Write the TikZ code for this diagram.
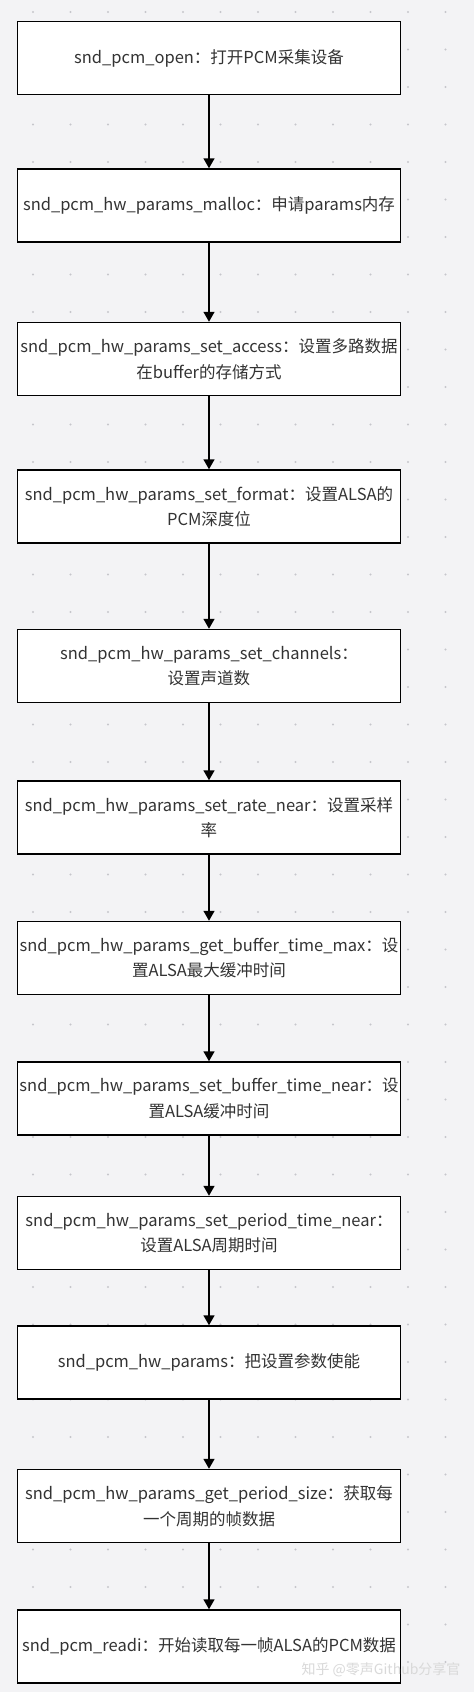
\documentclass[tikz,border=0pt]{standalone}
\usepackage{fontspec}
\setmainfont{Noto Sans CJK SC}
\usepackage{tikz}
\usetikzlibrary{arrows.meta,positioning}
\definecolor{bggray}{HTML}{F3F3F5}
\definecolor{dotgray}{HTML}{C6C6CB}
\definecolor{txtgray}{HTML}{333333}

\begin{document}
\begin{tikzpicture}[x=1pt,y=-1pt,->,>={Triangle[length=10pt,width=11pt]},
                    line width=1.6pt]
  \tikzstyle{box}=[draw=black,fill=white,text=txtgray,line width=1.5pt,
                   text width=379pt,minimum height=73pt,inner sep=2pt,
                   align=center,font=\fontsize{16.5}{25.5}\selectfont]

  % background with dot grid
  \fill[bggray,-] (0,0) rectangle (474,1692);
  \useasboundingbox (0,0) rectangle (474,1692);
  \foreach \i in {0,...,11}
    \foreach \j in {0,...,44}
      \fill[dotgray,-] (33+37.5*\i,12+37.5*\j) circle (1.1);

  \node[box] (open)                          at (209,58) {snd\_pcm\_open：打开PCM采集设备};
  \node[box] (malloc)   [below=73pt of open]     {snd\_pcm\_hw\_params\_malloc：申请params内存};
  \node[box] (access)   [below=79pt of malloc]   {snd\_pcm\_hw\_params\_set\_access：设置多路数据\\在buffer的存储方式};
  \node[box] (format)   [below=73pt of access]   {snd\_pcm\_hw\_params\_set\_format：设置ALSA的\\PCM深度位};
  \node[box] (channels) [below=85pt of format]   {snd\_pcm\_hw\_params\_set\_channels：\\设置声道数};
  \node[box] (rate)     [below=77pt of channels] {snd\_pcm\_hw\_params\_set\_rate\_near：设置采样\\率};
  \node[box] (bufmax)   [below=66pt of rate]     {snd\_pcm\_hw\_params\_get\_buffer\_time\_max：设\\置ALSA最大缓冲时间};
  \node[box] (bufnear)  [below=66pt of bufmax]   {snd\_pcm\_hw\_params\_set\_buffer\_time\_near：设\\置ALSA缓冲时间};
  \node[box] (period)   [below=60pt of bufnear]  {snd\_pcm\_hw\_params\_set\_period\_time\_near：\\设置ALSA周期时间};
  \node[box] (hwparams) [below=55pt of period]   {snd\_pcm\_hw\_params：把设置参数使能};
  \node[box] (psize)    [below=69pt of hwparams] {snd\_pcm\_hw\_params\_get\_period\_size：获取每\\一个周期的帧数据};
  \node[box] (readi)    [below=66pt of psize]    {snd\_pcm\_readi：开始读取每一帧ALSA的PCM数据};

  \path (open)     edge (malloc)
        (malloc)   edge (access)
        (access)   edge (format)
        (format)   edge (channels)
        (channels) edge (rate)
        (rate)     edge (bufmax)
        (bufmax)   edge (bufnear)
        (bufnear)  edge (period)
        (period)   edge (hwparams)
        (hwparams) edge (psize)
        (psize)    edge (readi);

  \node[text=gray!30,font=\fontsize{14}{14}\selectfont] (mark) at (381,1670) {知乎 @零声Github分享官};
\end{tikzpicture}
\end{document}
